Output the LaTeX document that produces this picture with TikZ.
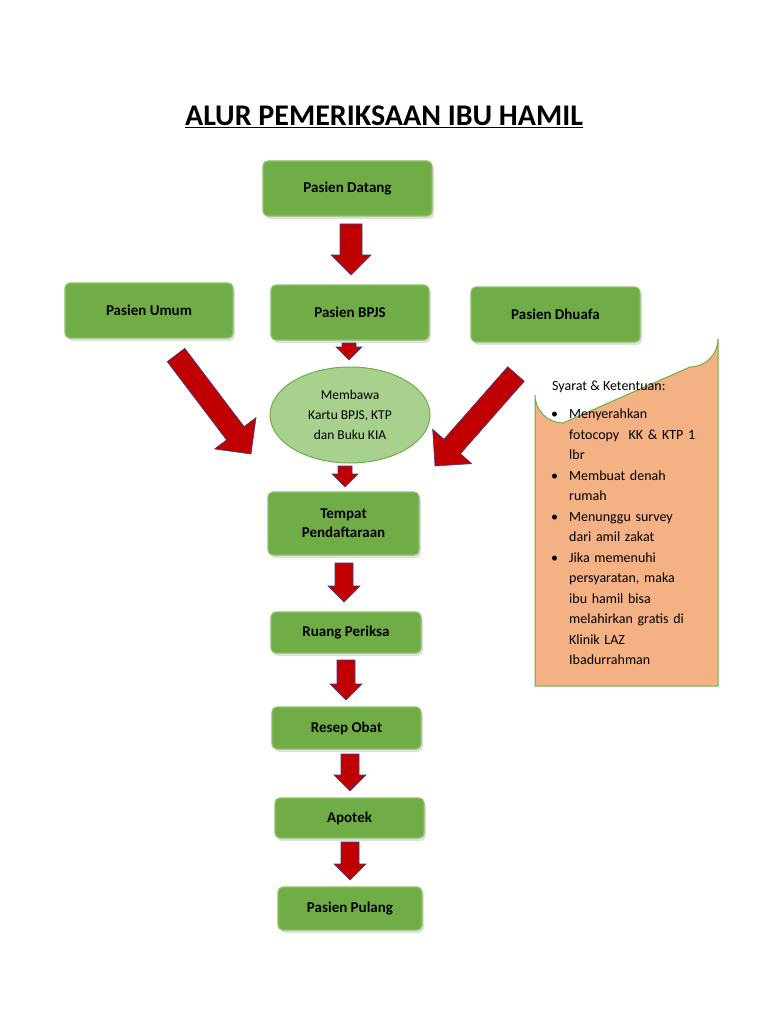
\documentclass[tikz,border=0pt]{standalone}
\usepackage{fontspec}
\setmainfont{Carlito}
\usetikzlibrary{calc,shapes.geometric,shadows}
\definecolor{gbox}{HTML}{70AD47}
\definecolor{gline}{HTML}{8CC168}
\definecolor{gell}{HTML}{A9D18E}
\definecolor{obox}{HTML}{F4B183}
\definecolor{ared}{HTML}{C00000}
\definecolor{aline}{HTML}{3A3F8A}
\tikzset{
  box/.style={draw=gline,line width=1.2pt,fill=gbox,rounded corners=5pt,align=center,
    font=\fontsize{15}{19}\selectfont\bfseries,drop shadow={shadow xshift=2pt,shadow yshift=-3pt,opacity=.25}},
  barrowst/.style={fill=ared,draw=aline,line width=0.6pt,line join=miter}
}
\newcommand\barrow[4]{% start, end, half shaft, half head
  \coordinate (H) at ($(#2)!#4pt!(#1)$);
  \draw[barrowst] ($(#1)!#3pt!90:(#2)$) -- ($(H)!#3pt!-90:(#1)$) -- ($(H)!#4pt!-90:(#1)$) -- (#2)
   -- ($(H)!#4pt!90:(#1)$) -- ($(H)!#3pt!90:(#1)$) -- ($(#1)!#3pt!-90:(#2)$) -- cycle;}
\begin{document}
\begin{tikzpicture}[x=1pt,y=-1pt]
\useasboundingbox[fill=white] (0,0) rectangle (768,1024);
\node[font=\fontsize{30}{34}\selectfont\bfseries] (title) at (384,117) {\underline{ALUR PEMERIKSAAN IBU HAMIL}};
\node[box,minimum width=169,minimum height=55] (datang) at (347.5,188.5) {Pasien Datang};
\node[box,minimum width=168,minimum height=55] (umum) at (149,310.5) {Pasien Umum};
\node[box,minimum width=158,minimum height=55] (bpjs) at (350,312.5) {Pasien BPJS};
\node[box,minimum width=169,minimum height=55] (dhuafa) at (555.5,314.5) {Pasien Dhuafa};
\node[ellipse,draw=gbox,line width=1pt,fill=gell,minimum width=160,minimum height=96,align=center,
  font=\fontsize{13.5}{20}\selectfont] (ell) at (350,415) {Membawa\\Kartu BPJS, KTP\\dan Buku KIA};
\node[box,minimum width=151,minimum height=63] (tempat) at (343.5,523.5) {Tempat\\Pendaftaraan};
\node[box,minimum width=150,minimum height=41] (ruang) at (346,632.5) {Ruang Periksa};
\node[box,minimum width=149,minimum height=42] (resep) at (346.5,728) {Resep Obat};
\node[box,minimum width=149,minimum height=40] (apotek) at (349.5,818) {Apotek};
\node[box,minimum width=144,minimum height=43] (pulang) at (350,908.5) {Pasien Pulang};
% orange box
\draw[draw=gbox,line width=1pt,fill=obox] (535,686) -- (535,395) arc[start angle=180,end angle=90,radius=28] -- (690,367) arc[start angle=90,end angle=0,radius=28] -- (718,686) -- cycle;
\node[anchor=north west,inner sep=0,font=\fontsize{14}{20.5}\selectfont,align=left] (syarat) at (552,381) {Syarat \& Ketentuan:};
\node[anchor=north west,inner sep=0,font=\fontsize{14}{20.5}\selectfont,align=left,text width=150] (list) at (551,409) {%
\makebox[18pt][l]{\textbullet}Menyerahkan\\\hspace*{18pt}fotocopy\ \ KK \& KTP 1\\\hspace*{18pt}lbr\\
\makebox[18pt][l]{\textbullet}Membuat denah\\\hspace*{18pt}rumah\\
\makebox[18pt][l]{\textbullet}Menunggu survey\\\hspace*{18pt}dari amil zakat\\
\makebox[18pt][l]{\textbullet}Jika memenuhi\\\hspace*{18pt}persyaratan, maka\\\hspace*{18pt}ibu hamil bisa\\\hspace*{18pt}melahirkan gratis di\\\hspace*{18pt}Klinik LAZ\\\hspace*{18pt}Ibadurrahman};
% arrows
\coordinate (a1s) at (351,224); \coordinate (a1e) at (351,275);
\coordinate (a2s) at (349,343); \coordinate (a2e) at (349,360);
\coordinate (a3s) at (345,466); \coordinate (a3e) at (345,487);
\coordinate (a4s) at (344,563); \coordinate (a4e) at (344,602);
\coordinate (a5s) at (346,660); \coordinate (a5e) at (346,700);
\coordinate (a6s) at (350,754); \coordinate (a6e) at (350,791);
\coordinate (a7s) at (350,842); \coordinate (a7e) at (350,880);
\coordinate (l1s) at (176,355); \coordinate (l1e) at (251,454);
\coordinate (r1s) at (516,374); \coordinate (r1e) at (435,466);
\barrow{a1s}{a1e}{11}{20}
\barrow{a2s}{a2e}{7}{13}
\barrow{a3s}{a3e}{7}{13}
\barrow{a4s}{a4e}{9}{16}
\barrow{a5s}{a5e}{9}{16}
\barrow{a6s}{a6e}{9}{16}
\barrow{a7s}{a7e}{9}{16}
\barrow{l1s}{l1e}{11}{26}
\barrow{r1s}{r1e}{11}{26}
\end{tikzpicture}
\end{document}
